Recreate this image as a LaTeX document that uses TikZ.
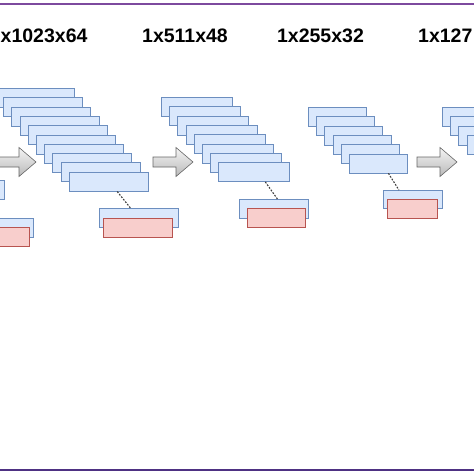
\documentclass[tikz,border=0pt]{standalone}
\usepackage{fontspec}
\setmainfont{Liberation Sans}
\usepackage{tikz}
\definecolor{featfill}{HTML}{DAE8FC}
\definecolor{featline}{HTML}{6C8EBF}
\definecolor{outfill}{HTML}{F8CECC}
\definecolor{outline}{HTML}{B85450}
\definecolor{rulepurple}{HTML}{7D4A9E}
\definecolor{rulepurpledark}{HTML}{4E3183}
\tikzset{
  feat/.style = {draw = featline, fill = featfill, line width = .8pt, inner sep = 0pt, anchor = north west},
  outbox/.style = {draw = outline, fill = outfill, line width = .8pt, inner sep = 0pt, anchor = north west},
  link/.style = {dash pattern = on 1.8pt off 1.4pt, line width = 1.1pt, black!75},
  dims/.style = {font = \fontsize{19.5}{22}\selectfont\bfseries, inner sep = 0pt},
  grayarrow/.style = {draw = gray!80!black, line width = .6pt, top color = gray!8, bottom color = gray!55}
}
\begin{document}
\begin{tikzpicture}[x = 1pt, y = -1pt]
\useasboundingbox (0,0) rectangle (474,474);
\clip (0,0) rectangle (474,474);
\fill[white] (0,0) rectangle (474,474);
% Frame
\draw[rulepurple, line width = 1.6pt] (0,4) -- (474,4);
\draw[rulepurpledark, line width = 2pt] (0,470) -- (474,470);
% Sizes
\node[dims, anchor = base west] (lab1) at (0.5,42) {x1023x64};
\node[dims, anchor = base] (lab2) at (185,42) {1x511x48};
\node[dims, anchor = base] (lab3) at (320.5,42) {1x255x32};
\node[dims, anchor = base west] (lab4) at (418,42) {1x127};
% Arrows
\foreach \tip in {36, 193, 457} {
\begin{scope}[shift = {(\tip,162)}]
\draw[grayarrow] (-40,-5) -- (-17,-5) -- (-17,-14.5) -- (0,0) -- (-17,14.5) -- (-17,5) -- (-40,5) -- cycle;
\end{scope}
}
% Block 0 (cut off)
\node[feat, minimum width = 84, minimum height = 19] (s0last) at (-80,180) {};
\node[feat, minimum width = 80, minimum height = 19] (s0low) at (-47,218) {};
\node[outbox, minimum width = 76, minimum height = 19] (s0out) at (-47,227) {};
% Block 1
\foreach \i in {0,...,9}
  \node[feat, minimum width = 79, minimum height = 19] (s1-\i) at (-5+8.2*\i, 88+9.3*\i) {};
\node[feat, minimum width = 79, minimum height = 19] (s1low) at (99,208) {};
\node[outbox, minimum width = 69, minimum height = 19] (s1out) at (103,218) {};
\draw[link] ([xshift = 8.5pt]s1-9.south) -- ([xshift = -8.5pt]s1low.north);
% Block 2
\foreach \i in {0,...,7}
  \node[feat, minimum width = 71, minimum height = 19] (s2-\i) at (161+8.2*\i, 97+9.3*\i) {};
\node[feat, minimum width = 69, minimum height = 19] (s2low) at (239,199) {};
\node[outbox, minimum width = 58, minimum height = 19] (s2out) at (247,208) {};
\draw[link] ([xshift = 11pt]s2-7.south) -- ([xshift = 3.5pt]s2low.north);
% Block 3
\foreach \i in {0,...,5}
  \node[feat, minimum width = 58, minimum height = 19] (s3-\i) at (308+8.2*\i, 107+9.3*\i) {};
\node[feat, minimum width = 59, minimum height = 18] (s3low) at (383,190) {};
\node[outbox, minimum width = 50, minimum height = 19] (s3out) at (387,199) {};
\draw[link] ([xshift = 10pt]s3-5.south) -- ([xshift = -14pt]s3low.north);
% Block 4 (cut off)
\foreach \i in {0,...,3}
  \node[feat, minimum width = 50, minimum height = 19] (s4-\i) at (442+8.2*\i, 107+9.3*\i) {};
\end{tikzpicture}
\end{document}
